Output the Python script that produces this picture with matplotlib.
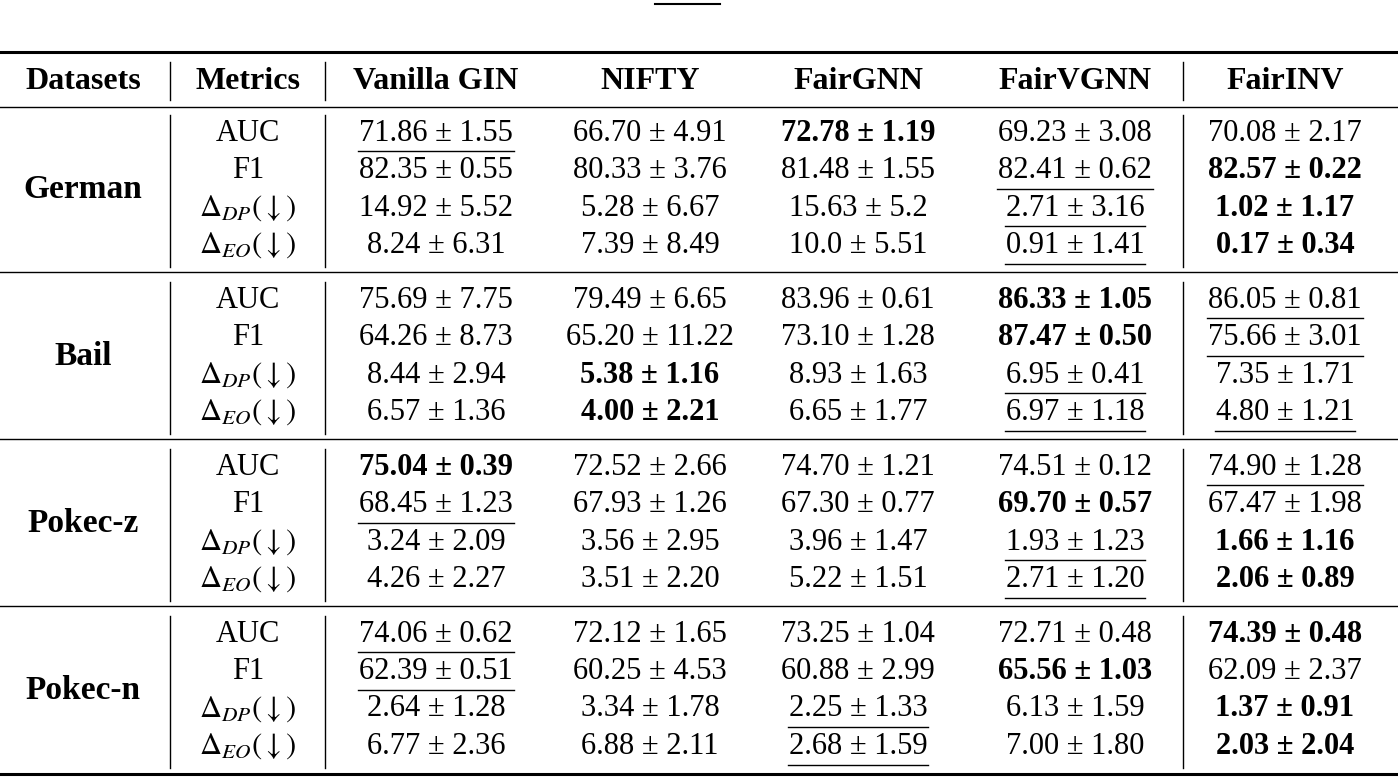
import matplotlib
matplotlib.use("Agg")
import matplotlib.pyplot as plt

plt.rcParams['font.family'] = ['Liberation Serif', 'DejaVu Serif']
plt.rcParams['mathtext.fontset'] = 'stix'

methods = ['Vanilla GIN', 'NIFTY', 'FairGNN', 'FairVGNN', 'FairINV']
datasets = ['German', 'Bail', 'Pokec-z', 'Pokec-n']
metrics = ['AUC', 'F1', r'$\Delta_{DP}(\downarrow)$', r'$\Delta_{EO}(\downarrow)$']

german = [['71.86 ± 1.55', '66.70 ± 4.91', '72.78 ± 1.19', '69.23 ± 3.08', '70.08 ± 2.17'],
          ['82.35 ± 0.55', '80.33 ± 3.76', '81.48 ± 1.55', '82.41 ± 0.62', '82.57 ± 0.22'],
          ['14.92 ± 5.52', '5.28 ± 6.67', '15.63 ± 5.2', '2.71 ± 3.16', '1.02 ± 1.17'],
          ['8.24 ± 6.31', '7.39 ± 8.49', '10.0 ± 5.51', '0.91 ± 1.41', '0.17 ± 0.34']]
german_style = [['u', '', 'b', '', ''],
                ['', '', '', 'u', 'b'],
                ['', '', '', 'u', 'b'],
                ['', '', '', 'u', 'b']]
bail = [['75.69 ± 7.75', '79.49 ± 6.65', '83.96 ± 0.61', '86.33 ± 1.05', '86.05 ± 0.81'],
        ['64.26 ± 8.73', '65.20 ± 11.22', '73.10 ± 1.28', '87.47 ± 0.50', '75.66 ± 3.01'],
        ['8.44 ± 2.94', '5.38 ± 1.16', '8.93 ± 1.63', '6.95 ± 0.41', '7.35 ± 1.71'],
        ['6.57 ± 1.36', '4.00 ± 2.21', '6.65 ± 1.77', '6.97 ± 1.18', '4.80 ± 1.21']]
bail_style = [['', '', '', 'b', 'u'],
              ['', '', '', 'b', 'u'],
              ['', 'b', '', 'u', ''],
              ['', 'b', '', 'u', 'u']]
pokec_z = [['75.04 ± 0.39', '72.52 ± 2.66', '74.70 ± 1.21', '74.51 ± 0.12', '74.90 ± 1.28'],
           ['68.45 ± 1.23', '67.93 ± 1.26', '67.30 ± 0.77', '69.70 ± 0.57', '67.47 ± 1.98'],
           ['3.24 ± 2.09', '3.56 ± 2.95', '3.96 ± 1.47', '1.93 ± 1.23', '1.66 ± 1.16'],
           ['4.26 ± 2.27', '3.51 ± 2.20', '5.22 ± 1.51', '2.71 ± 1.20', '2.06 ± 0.89']]
pokec_z_style = [['b', '', '', '', 'u'],
                 ['u', '', '', 'b', ''],
                 ['', '', '', 'u', 'b'],
                 ['', '', '', 'u', 'b']]
pokec_n = [['74.06 ± 0.62', '72.12 ± 1.65', '73.25 ± 1.04', '72.71 ± 0.48', '74.39 ± 0.48'],
           ['62.39 ± 0.51', '60.25 ± 4.53', '60.88 ± 2.99', '65.56 ± 1.03', '62.09 ± 2.37'],
           ['2.64 ± 1.28', '3.34 ± 1.78', '2.25 ± 1.33', '6.13 ± 1.59', '1.37 ± 0.91'],
           ['6.77 ± 2.36', '6.88 ± 2.11', '2.68 ± 1.59', '7.00 ± 1.80', '2.03 ± 2.04']]
pokec_n_style = [['u', '', '', '', 'b'],
                 ['u', '', '', 'b', ''],
                 ['', '', 'u', '', 'b'],
                 ['', '', 'u', '', 'b']]

tables = [german, bail, pokec_z, pokec_n]
styles = [german_style, bail_style, pokec_z_style, pokec_n_style]

fig = plt.figure(figsize=(13.98, 7.78), dpi=100)
ax = fig.add_axes([0, 0, 1, 1])
ax.set_xlim(0, 1398)
ax.set_ylim(778, 0)
ax.axis('off')

fs = 22
col_x = [436, 650, 858, 1075, 1285]
group_top = [115, 282, 449, 616]
row_h = 37.5

# caption remnant at top
ax.plot([655, 720], [4, 4], color='black', lw=1.5)

# rules
ax.plot([0, 1398], [52, 52], color='black', lw=2.2)
ax.plot([0, 1398], [107, 107], color='black', lw=1.0)
for yy in [272, 439, 606]:
    ax.plot([0, 1398], [yy, yy], color='black', lw=1.0)
ax.plot([0, 1398], [774, 774], color='black', lw=2.2)

# vertical lines
for vx in [170, 325, 1183]:
    ax.plot([vx, vx], [62, 100], color='black', lw=1.0)
    for gt in group_top:
        ax.plot([vx, vx], [gt, gt + 4 * row_h + 2], color='black', lw=1.0)

# header
ax.text(83, 81, 'Datasets', ha='center', va='center', fontsize=fs + 1, fontweight='bold')
ax.text(248, 81, 'Metrics', ha='center', va='center', fontsize=fs + 1, fontweight='bold')
for x, m in zip(col_x, methods):
    ax.text(x, 81, m, ha='center', va='center', fontsize=fs + 1, fontweight='bold')

underlined = []
for g, (name, tab, sty) in enumerate(zip(datasets, tables, styles)):
    y0 = group_top[g] + 18
    ax.text(83, y0 + 1.5 * row_h, name, ha='center', va='center', fontsize=fs + 2, fontweight='bold')
    for r in range(4):
        y = y0 + r * row_h
        ax.text(248, y, metrics[r], ha='center', va='center', fontsize=fs)
        for c in range(5):
            s = sty[r][c]
            t = ax.text(col_x[c], y, tab[r][c], ha='center', va='center', fontsize=fs,
                        fontweight='bold' if s == 'b' else 'normal')
            if s == 'u':
                underlined.append((t, y))

fig.canvas.draw()
inv = ax.transData.inverted()
r = fig.canvas.get_renderer()
for t, y in underlined:
    bb = t.get_window_extent(renderer=r)
    (x0, _), (x1, _) = inv.transform([(bb.x0, bb.y0), (bb.x1, bb.y1)])
    ax.plot([x0 - 1, x1 + 1], [y + 18, y + 18], color='black', lw=1.0)

fig.savefig('out.png', dpi=100)
